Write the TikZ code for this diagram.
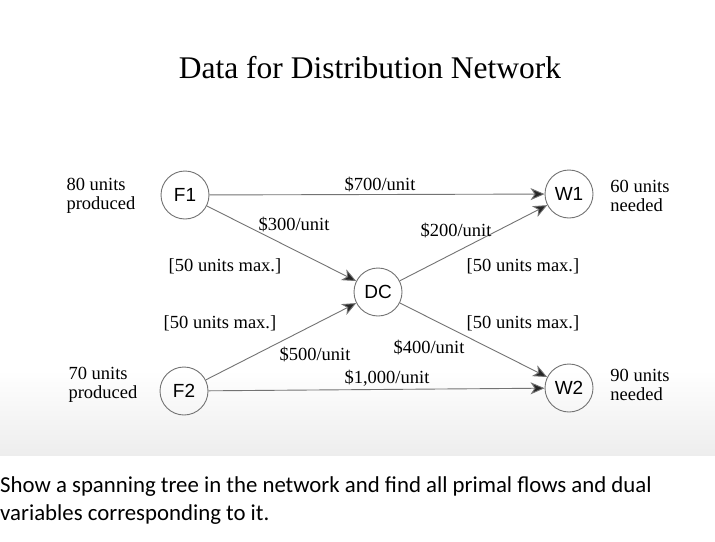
\documentclass[tikz,border=0pt]{standalone}
\usepackage{fontspec}
\setmainfont{Liberation Serif}
\newfontfamily\nodefont{Liberation Sans}
\newfontfamily\capfont{Carlito}
\usetikzlibrary{arrows.meta}
\begin{document}
\begin{tikzpicture}[x=1pt,y=-1pt,
  site/.style={circle,draw=black!55,line width=0.9pt,minimum size=48pt,inner sep=0pt,font=\nodefont\fontsize{19}{19}\selectfont},
  lbl/.style={font=\fontsize{18.5}{19}\selectfont,inner sep=1pt},
  side/.style={font=\fontsize{18.5}{19}\selectfont,align=left,inner sep=1pt},
  arc/.style={draw=black!55,line width=0.9pt,-{Stealth[length=14pt,width=12pt,inset=4pt,fill=black!85]}}]
\useasboundingbox (0,0) rectangle (715,541);
\fill[white] (0,0) rectangle (715,541);
\shade[top color=white,bottom color=black!7] (0,370) rectangle (715,455);
\node[font=\fontsize{31.5}{32}\selectfont] (title) at (370,68) {Data for Distribution Network};
\node[site] (F1) at (185,195) {F1};
\node[site] (W1) at (569,194) {W1};
\node[site] (DC) at (378,292) {DC};
\node[site] (F2) at (184,391) {F2};
\node[site] (W2) at (569,388) {W2};
\draw[arc] (F1) -- (W1);
\draw[arc] (F1) -- (DC);
\draw[arc] (DC) -- (W1);
\draw[arc] (F2) -- (DC);
\draw[arc] (DC) -- (W2);
\draw[arc] (F2) -- (W2);
\node[side] (s1) at (101,196) {80 units\\produced};
\node[side] (d1) at (640,196) {60 units\\needed};
\node[side] (s2) at (103,385) {70 units\\produced};
\node[side] (d2) at (640,385) {90 units\\needed};
\node[lbl] (c1) at (380,185) {\$700/unit};
\node[lbl] (c2) at (294,225) {\$300/unit};
\node[lbl] (c3) at (456,231) {\$200/unit};
\node[lbl] (m1) at (225,266) {[50 units max.]};
\node[lbl] (m2) at (523,266) {[50 units max.]};
\node[lbl] (m3) at (220,323) {[50 units max.]};
\node[lbl] (m4) at (523,323) {[50 units max.]};
\node[lbl] (c4) at (315,355) {\$500/unit};
\node[lbl] (c5) at (429,348) {\$400/unit};
\node[lbl] (c6) at (387,378) {\$1,000/unit};
\node[font=\capfont\fontsize{22.8}{28}\selectfont,align=left,anchor=north west,inner sep=0pt] (cap) at (0,476) {Show a spanning tree in the network and find all primal flows and dual\\variables corresponding to it.};
\end{tikzpicture}
\end{document}
